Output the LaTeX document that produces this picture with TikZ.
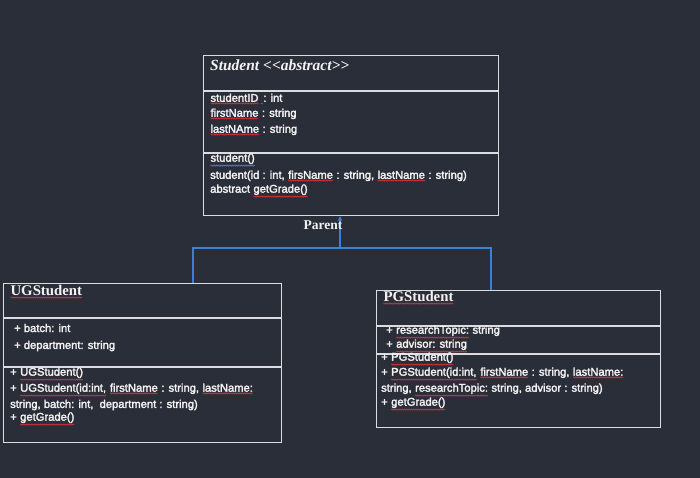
\documentclass[tikz,border=0pt]{standalone}
\usepackage{fontspec}
\setmainfont{Liberation Serif}
\setsansfont{Liberation Sans}
\newfontfamily\memfont{Liberation Sans}[FakeBold=2.5]
\usetikzlibrary{arrows.meta,decorations.pathmorphing}
\definecolor{bg}{HTML}{2A2E39}
\definecolor{ln}{HTML}{DADCE0}
\definecolor{tx}{HTML}{F2F2F2}
\definecolor{bl}{HTML}{3C7FD8}
\definecolor{sqr}{HTML}{C8303C}
\newcommand\sq[2][sqr]{\tikz[baseline=(t.base)]{\node[inner sep=0pt,outer sep=0pt,text=tx](t){#2};\draw[#1,line width=0.7pt,decorate,decoration={snake,amplitude=0.5pt,segment length=1.8pt}]([yshift=-1.6pt]t.south west)--([yshift=-1.6pt]t.south east);}}
\begin{document}
\begin{tikzpicture}[x=1pt,y=-1pt,
  box/.style={draw=ln,line width=1.1pt,anchor=north west,inner sep=0pt},
  div/.style={draw=ln,line width=1.1pt},
  mem/.style={anchor=west,inner sep=0pt,text=tx,font=\memfont\fontsize{11.2}{13}\selectfont},
  ttl/.style={anchor=west,inner sep=0pt,text=tx,font=\rmfamily\bfseries\fontsize{14.8}{16}\selectfont},
  conn/.style={draw=bl,line width=1.1pt}]
\fill[bg] (0,0) rectangle (700,478);
\useasboundingbox (0,0) rectangle (700,478);
% Student
\node[box,minimum width=295pt,minimum height=160pt] (student) at (203,55) {};
\draw[div] (203,91) -- (498,91);
\draw[div] (203,153) -- (498,153);
\node[ttl,font=\rmfamily\bfseries\itshape\fontsize{15.5}{17}\selectfont] (st) at (210,65) {Student <{}<abstract>{}>};
\node[mem] (sa1) at (210,99) {\sq{studentID}\,\sq[bl]{\,}: int};
\node[mem] (sa2) at (210,114) {\sq{firstName} : string};
\node[mem] (sa3) at (210,130) {\sq{lastNAme} : string};
\node[mem] (sm1) at (210,160) {\sq[bl]{student()}};
\node[mem] (sm2) at (210,176) {student(id : int, \sq{firsName} : string, \sq{lastName} : string)};
\node[mem] (sm3) at (210,191) {abstract \sq{getGrade()}};
% UGStudent
\node[box,minimum width=278pt,minimum height=159pt] (ug) at (3,283) {};
\draw[div] (3,318) -- (281,318);
\draw[div] (3,367) -- (281,367);
\node[ttl] (ugt) at (10,292) {\sq{UGStudent}};
\node[mem] (ua1) at (14,328) {+ batch: int};
\node[mem] (ua2) at (14,346) {+ department: string};
\node[mem] (um1) at (10,374) {+ \sq{UGStudent()}};
\node[mem] (um2) at (10,390) {+ \sq{UGStudent(id:int,} \sq{firstName} : string, \sq{lastName:}};
\node[mem] (um3) at (10,405) {string, batch: int,\ \ department : string)};
\node[mem] (um4) at (10,419) {+ \sq{getGrade()}};
% PGStudent
\node[box,minimum width=284pt,minimum height=137pt] (pg) at (376,290) {};
\draw[div] (376,326) -- (660,326);
\draw[div] (376,354) -- (660,354);
\node[ttl] (pgt) at (383,298) {\sq{PGStudent}};
\node[mem] (pa1) at (386,332) {+ \sq{researchTopic:} string};
\node[mem] (pa2) at (386,346) {+ \sq{advisor: string}};
\node[mem] (pm1) at (381,359) {+ \sq{PGStudent()}};
\node[mem] (pm2) at (381,374) {+ \sq{PGStudent(id:int,} \sq{firstName} : string, \sq{lastName:}};
\node[mem] (pm3) at (381,390) {string, \sq{researchTopic:} string, advisor : string)};
\node[mem] (pm4) at (381,404) {+ \sq{getGrade()}};
% connectors
\coordinate (j1) at (193,248);
\coordinate (j2) at (491,248);
\coordinate (jm) at (340,248);
\draw[conn] (j1 |- ug.north) -- (j1) -- (j2) -- (j2 |- pg.north);
\draw[conn,-{Stealth[length=5pt,width=5pt]}] (jm) -- (jm |- student.south);
\node[ttl,anchor=center,font=\rmfamily\bfseries\fontsize{13.5}{15}\selectfont] (par) at (323,225) {Parent};
\end{tikzpicture}
\end{document}
